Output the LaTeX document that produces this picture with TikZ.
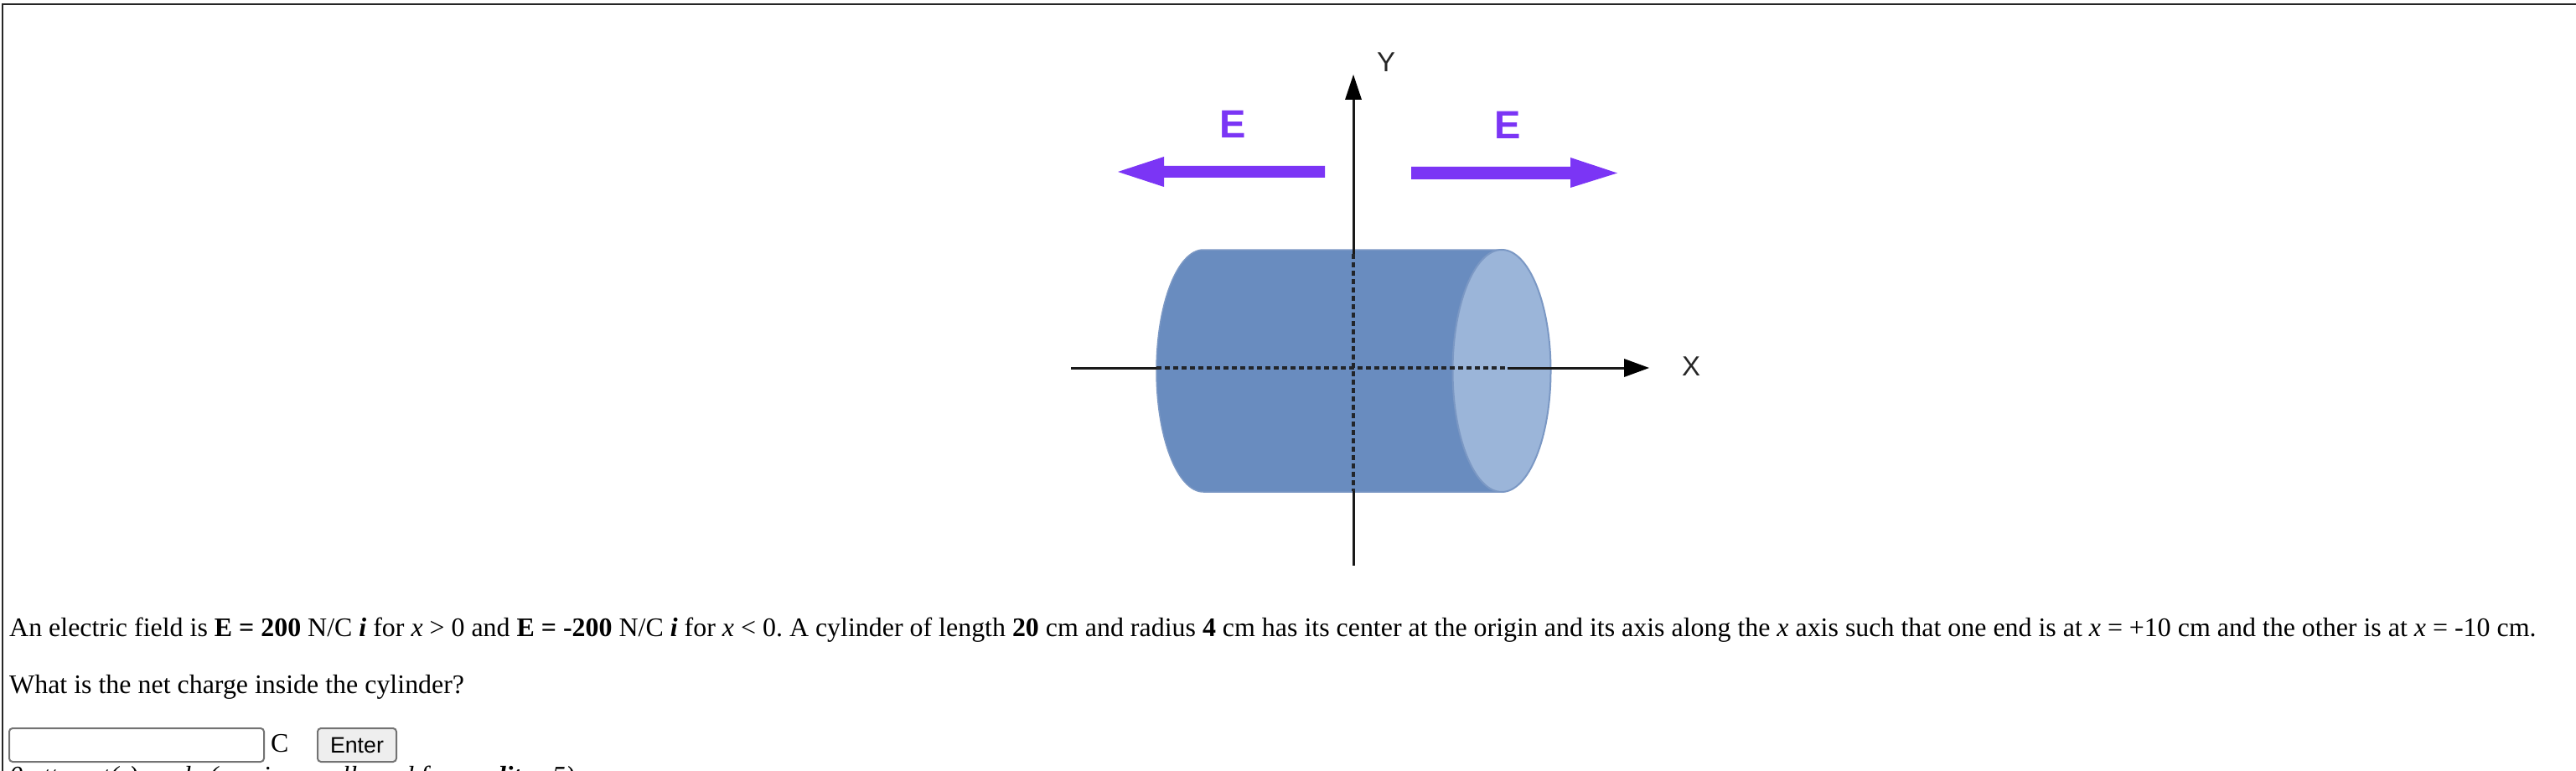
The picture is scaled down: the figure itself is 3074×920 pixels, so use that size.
\documentclass[tikz,border=0pt]{standalone}
\usepackage{fontspec}
\setmainfont{Liberation Serif}
\newfontfamily\uisans{Liberation Sans}
\definecolor{cylbody}{HTML}{698CBF}
\definecolor{cylcap}{HTML}{9BB5D9}
\definecolor{cyledge}{HTML}{7B98C4}
\definecolor{fieldpurple}{HTML}{7B35F5}
\definecolor{axisgray}{HTML}{1A1A1A}
\tikzset{
  axisline/.style={draw=black!90,line width=3pt},
  dotline/.style={draw=axisgray!90!cylbody,line width=3.5pt,dash pattern=on 6pt off 4pt},
  tiphead/.style={fill=black,draw=none},
  fieldarrow/.style={fill=fieldpurple,draw=none},
  fieldlabel/.style={text=fieldpurple,inner sep=0pt,font=\uisans\bfseries\fontsize{47}{47}\selectfont},
  axislabel/.style={text=black!85,inner sep=0pt,font=\uisans\fontsize{33}{33}\selectfont},
  para/.style={anchor=base west,inner sep=0pt,font=\fontsize{31.93}{38}\selectfont},
  uibox/.style={anchor=center,inner sep=0pt,rounded corners=4pt}
}
\begin{document}
\begin{tikzpicture}[x=1pt,y=-1pt]
\useasboundingbox (0,0) rectangle (3074,920);
\clip (0,0) rectangle (3074,920);
\fill[white] (0,0) rectangle (3074,920);
\frenchspacing
\draw[black!85,line width=2pt] (3,920) -- (3,5) -- (3074,5);
% cylinder
\path[fill=cylbody,draw=cyledge,line width=1.5pt]
  (1792,298) -- (1436,298)
  .. controls (1405,298) and (1380,363) .. (1380,442.5)
  .. controls (1380,522) and (1405,587) .. (1436,587)
  -- (1792,587) -- cycle;
\path[fill=cylcap,draw=cyledge,line width=2pt] (1792,442.5) ellipse [x radius=58.5,y radius=144.5];
% axes
\draw[axisline] (1278,439) -- (1380,439);
\draw[axisline] (1799,439) -- (1940,439);
\draw[dotline] (1380,439) -- (1799,439);
\fill[tiphead] (1968,439) -- (1938,428) -- (1938,450) -- cycle;
\draw[axisline] (1615,112) -- (1615,303);
\draw[axisline] (1615,586) -- (1615,675);
\draw[dotline] (1615,303) -- (1615,586);
\fill[tiphead] (1615,89) -- (1605,119) -- (1625,119) -- cycle;
% field arrows
\fill[fieldarrow] (1334,205) -- (1389,187) -- (1389,198) -- (1581,198) -- (1581,212) -- (1389,212) -- (1389,223) -- cycle;
\fill[fieldarrow] (1930,206.5) -- (1874,188) -- (1874,199) -- (1684,199) -- (1684,214) -- (1874,214) -- (1874,224) -- cycle;
\node[fieldlabel] (eleft) at (1471,148) {E};
\node[fieldlabel] (eright) at (1799.5,149) {E};
\node[axislabel] (ylabel) at (1654,74) {Y};
\node[axislabel] (xlabel) at (2018,437) {X};
% text
\node[para] (line1) at (11,759.5) {An electric field is \textbf{E = 200} N/C \textbf{\textit{i}} for \textit{x} > 0 and \textbf{E = -200} N/C \textbf{\textit{i}} for \textit{x} < 0. A cylinder of length \textbf{20} cm and radius \textbf{4} cm has its center at the origin and its axis along the \textit{x} axis such that one end is at \textit{x} = +10 cm and the other is at \textit{x} = -10 cm.};
\node[para] (line2) at (11,827) {What is the net charge inside the cylinder?};
\node[uibox,draw=black!55,line width=2pt,fill=white,minimum width=304pt,minimum height=40pt] (answer) at (163,889) {};
\node[para] (unit) at (323,897) {C};
\node[uibox,draw=black!55,line width=2pt,fill=black!6.5,minimum width=94pt,minimum height=40pt,font=\uisans\fontsize{26.7}{30}\selectfont] (enter) at (426,889) {Enter};
\node[para] (attempts) at (11,936) {\textit{0 attempt(s) made (maximum allowed for \textbf{credit} = 5)}};
\end{tikzpicture}
\end{document}
